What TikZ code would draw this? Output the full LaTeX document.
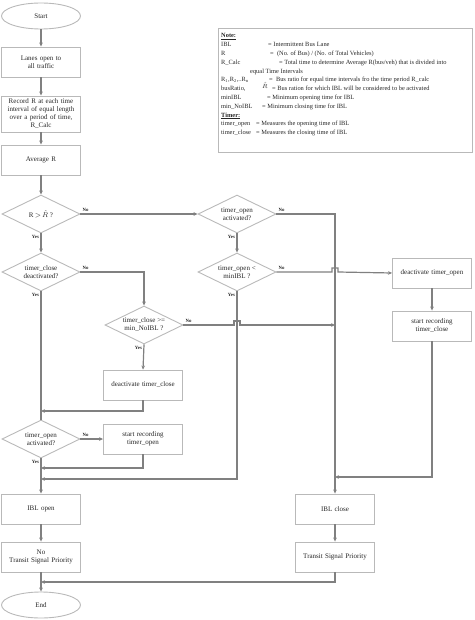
\documentclass[tikz,border=0pt]{standalone}
\usepackage{fontspec}
\setmainfont{Liberation Serif}
\usetikzlibrary{shapes.geometric,arrows.meta}

\begin{document}
\begin{tikzpicture}[x=1pt,y=-1pt,font=\fontsize{7}{8}\selectfont]

\tikzstyle{TERM} = [ellipse, minimum width=79pt, minimum height=26pt, draw=gray!55, line width=0.9pt, text=black!85]
\tikzstyle{RECT} = [rectangle, minimum width=79pt, minimum height=30pt, text width=75pt, inner sep=1pt, align=center, draw=gray!55, line width=0.9pt, text=black!85]
\tikzstyle{DEC} = [diamond, aspect=2, inner sep=0pt, minimum width=78pt, minimum height=38pt, align=center, draw=gray!55, line width=0.9pt, text=black!85]
\tikzstyle{NOTE} = [rectangle, minimum width=254pt, minimum height=124pt, draw=gray!55, line width=0.9pt]
\tikzstyle{NT} = [anchor=base west, inner sep=0pt, font=\fontsize{6.4}{7}\selectfont, text=black!85]
\tikzstyle{YN} = [inner sep=1.5pt, font=\fontsize{4.8}{5}\selectfont\bfseries, text=black!85]
\tikzstyle{arrow} = [gray, line width=1.2pt, -{Stealth[length=4pt,width=3.6pt]}]
\tikzstyle{line} = [gray, line width=1.2pt]

\useasboundingbox (0,0) rectangle (474,620);

% left column
\node (start) [TERM] at (41,16) {Start};
\node (lanes) [RECT] at (41,62) {Lanes open to\\all traffic};
\node (record) [RECT, minimum height=36pt] at (41,114) {Record R at each time\\interval of equal length\\over a period of time,\\R\_Calc};
\node (avg) [RECT] at (41,160) {Average R};
\node (ratio) [DEC] at (41,214) {R\,$>$\,$\hat{R}$ ?};
\node (closedeact) [DEC] at (41,272) {timer\_close\\deactivated?};
\node (closemin) [DEC] at (144,325) {timer\_close >=\\min\_NoIBL ?};
\node (deactclose) [RECT] at (143,385) {deactivate timer\_close};
\node (openact) [DEC] at (41,439) {timer\_open\\activated?};
\node (recopen) [RECT] at (143,439) {start recording\\timer\_open};
\node (iblopen) [RECT] at (41,509) {IBL open};
\node (notsp) [RECT] at (41,557) {No\\Transit Signal Priority};
\node (end) [TERM] at (41,605) {End};

% right part
\node (openact2) [DEC] at (237,214) {timer\_open\\activated?};
\node (openmin) [DEC] at (237,272) {timer\_open <\\minIBL ?};
\node (deactopen) [RECT] at (432,273) {deactivate timer\_open};
\node (recclose) [RECT] at (432,326) {start recording\\timer\_close};
\node (iblclose) [RECT] at (335,509) {IBL close};
\node (tsp) [RECT] at (335,557) {Transit Signal Priority};

% note
\node (note) [NOTE] at (345,90) {};
\node (nl0) [NT] at (221,38) {\underline{\textbf{Note:}}};
\node (nl1) [NT] at (221,46.8) {IBL};
\node (nt1) [NT] at (268,46.8) {= Intermittent Bus Lane};
\node (nl2) [NT] at (221,55.6) {R};
\node (nt2) [NT] at (270,55.6) {=\ \ (No. of Bus) / (No. of Total Vehicles)};
\node (nl3) [NT] at (221,64.4) {R\_Calc};
\node (nt3) [NT] at (279,64.4) {= Total time to determine Average R(bus/veh) that is divided into};
\node (nt4) [NT] at (250,73.2) {equal Time Intervals};
\node (nl5) [NT] at (221,82) {R\textsubscript{1},R\textsubscript{2},..R\textsubscript{n}};
\node (nt5) [NT] at (269,82) {=\ \ Bus ratio for equal time intervals fro the time period R\_calc};
\node (nrh) [NT] at (262,88.5) {$\hat{R}$};
\node (nl6) [NT] at (221,90.8) {busRatio,};
\node (nt6) [NT] at (272,90.8) {= Bus ration for which IBL will be considered to be activated};
\node (nl7) [NT] at (221,99.6) {minIBL};
\node (nt7) [NT] at (267,99.6) {= Minimum opening time for IBL};
\node (nl8) [NT] at (221,108.4) {min\_NoIBL};
\node (nt8) [NT] at (262,108.4) {= Minimum closing time for IBL};
\node (nl9) [NT] at (221,117.2) {\underline{\textbf{Timer:}}};
\node (nl10) [NT] at (221,126) {timer\_open};
\node (nt10) [NT] at (256,126) {= Measures the opening time of IBL};
\node (nl11) [NT] at (221,134.8) {timer\_close};
\node (nt11) [NT] at (256,134.8) {= Measures the closing time of IBL};

% joints on the lines
\coordinate (mainA) at (41,411);
\coordinate (mainB) at (41,468);
\coordinate (mainC) at (41,479);
\coordinate (mainD) at (41,582);
\coordinate (rightA) at (335,477);
\coordinate (closein) at (iblclose.north |- closemin.east);
\coordinate (cross1) at (openmin.south |- closemin.east);
\coordinate (cross2) at (iblclose.north |- openmin.east);

\draw [arrow] (start) -- (lanes);
\draw [arrow] (lanes) -- (record);
\draw [arrow] (record) -- (avg);
\draw [arrow] (avg) -- (ratio);
\draw [arrow] (ratio.east) node[YN, above right] {No} -- (openact2.west);
\draw [arrow] (ratio.south) node[YN, below left] {Yes} -- (closedeact.north);
\draw [arrow] (closedeact.east) node[YN, above right] {No} -| (closemin.north);
\draw [arrow] (closemin.east) node[YN, above right] {No} -- ([xshift=-3pt]cross1) -- ++(0,-4) -- ++(6,0) -- ++(0,4) -- (closein);
\draw [arrow] (closemin.south) node[YN, below left] {Yes} -- (deactclose.north);
\draw [arrow] (deactclose.south) |- (mainA);
\draw [line] (closedeact.south) node[YN, below left] {Yes} -- (openact.north);
\draw [arrow] (openact.east) node[YN, above right] {No} -- (recopen.west);
\draw [arrow] (recopen.south) |- (mainB);
\draw [arrow] (openact.south) node[YN, below left] {Yes} -- (iblopen.north);
\draw [arrow] (iblopen) -- (notsp);
\draw [arrow] (notsp) -- (end);

\draw [arrow] (openact2.east) node[YN, above right] {No} -| (iblclose.north);
\draw [arrow] (openact2.south) node[YN, below left] {Yes} -- (openmin.north);
\draw [arrow] (openmin.east) node[YN, above right] {No} -- ([xshift=-3pt]cross2) -- ++(0,-4) -- ++(6,0) -- ++(0,4) -- (deactopen.west);
\draw [arrow] (openmin.south) node[YN, below left] {Yes} |- (mainC);
\draw [arrow] (deactopen) -- (recclose);
\draw [arrow] (recclose.south) |- (rightA);
\draw [arrow] (iblclose) -- (tsp);
\draw [arrow] (tsp.south) |- (mainD);

\end{tikzpicture}
\end{document}
